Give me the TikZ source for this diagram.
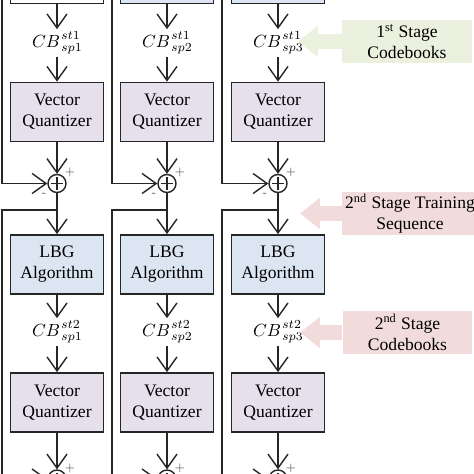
\documentclass[tikz,border=0pt]{standalone}
\usepackage{fontspec}
\setmainfont{Liberation Serif}
\usetikzlibrary{arrows.meta, positioning, calc}
\definecolor{vqpurple}{HTML}{E5E0EC}
\definecolor{lbgblue}{HTML}{DCE6F2}
\definecolor{cbgreen}{HTML}{EBF1DE}
\definecolor{trpink}{HTML}{F2DCDB}
\definecolor{boxdark}{HTML}{262626}
% codebook label: CB with stacked stage / speaker indices
\newcommand{\cbk}[2]{$CB\mkern1mu\renewcommand{\arraystretch}{0.6}%
  \begin{array}{@{}l@{}}\scriptstyle #1\\ \scriptstyle #2\end{array}$}
\tikzset{
  blk/.style={rectangle, draw=boxdark, line width=1pt, minimum width=1.86cm, minimum height=1.18cm,
    align=center, inner sep=1pt},
  vq/.style={blk, fill=vqpurple},
  lbg/.style={blk, fill=lbgblue},
  summ/.style={circle, draw=boxdark, line width=0.8pt, minimum size=0.36cm, inner sep=0pt, fill=white,
    path picture={\draw[line width=0.6pt]
      ([xshift=-1.3mm]path picture bounding box.center) -- ([xshift=1.3mm]path picture bounding box.center)
      ([yshift=-1.3mm]path picture bounding box.center) -- ([yshift=1.3mm]path picture bounding box.center);}},
  cblab/.style={font=\normalsize, inner sep=0.5pt},
  sgn/.style={font=\scriptsize\sffamily, text=black!70, inner sep=0pt},
  note/.style={rectangle, minimum width=2.6cm, minimum height=0.86cm, align=center, inner sep=1pt},
  arr/.style={-{Straight Barb[length=2.8mm, width=4mm]}, line width=0.8pt, boxdark},
  fatarr/.style={line width=8pt, -{Triangle[length=4mm, width=6mm]}},
}
\begin{document}
\begin{tikzpicture}[x=0.02cm, y=-0.02cm]
  \clip (0,0) rectangle (474,474);
  \fill[white] (0,0) rectangle (474,474);
  % three codebook columns
  \foreach \i/\c/\f/\tf in {1/57/2/white, 2/167/112/lbgblue, 3/278/222/lbgblue} {
    \node[blk, fill=\tf] (top\i) at (\c,-26) {};
    \node[cblab] (cba\i) at (\c,43) {\cbk{st1}{sp\i}};
    \node[vq] (vqa\i) at (\c,112) {Vector\\Quantizer};
    \node[summ] (suma\i) at (\c,183.5) {};
    \node[lbg] (lbg\i) at (\c,264.5) {LBG\\Algorithm};
    \node[cblab] (cbb\i) at (\c,332) {\cbk{st2}{sp\i}};
    \node[vq] (vqb\i) at (\c,402.5) {Vector\\Quantizer};
    \node[summ] (sumb\i) at (\c,479) {};
    \node[sgn] at ([shift={(13,-11)}]suma\i.center) {+};
    \node[sgn] at ([shift={(-13,11)}]suma\i.center) {-};
    \node[sgn] at ([shift={(13,-11)}]sumb\i.center) {+};
    \coordinate (fa\i) at (\f,-60);
    \coordinate (br\i) at (\c,210);
    \coordinate (fb\i) at (\f,210);
    \draw[arr] (top\i) -- (cba\i);
    \draw[arr] (cba\i) -- (vqa\i);
    \draw[arr] (vqa\i) -- (suma\i);
    \draw[arr] (fa\i) |- (suma\i);
    \draw[arr] (suma\i) -- (lbg\i);
    \draw[arr] (lbg\i) -- (cbb\i);
    \draw[arr] (cbb\i) -- (vqb\i);
    \draw[arr] (vqb\i) -- (sumb\i);
    \draw[arr] (br\i) -- (fb\i) |- (sumb\i);
  }
  % side notes
  \node[note, fill=cbgreen] (cbnote1) at (407,41.5) {1\textsuperscript{st} Stage\\Codebooks};
  \node[note, fill=trpink, minimum width=2.72cm] (trnote) at (410,213.5) {2\textsuperscript{nd} Stage Training\\Sequence};
  \node[note, fill=trpink] (cbnote2) at (407.5,332.5) {2\textsuperscript{nd} Stage\\Codebooks};
  \coordinate (tipa) at (298,41.5);
  \coordinate (tipb) at (300,213.5);
  \coordinate (tipc) at (300,332.5);
  \draw[fatarr, cbgreen] (cbnote1.west) -- (tipa);
  \draw[fatarr, trpink] (trnote.west) -- (tipb);
  \draw[fatarr, trpink] (cbnote2.west) -- (tipc);
\end{tikzpicture}
\end{document}
